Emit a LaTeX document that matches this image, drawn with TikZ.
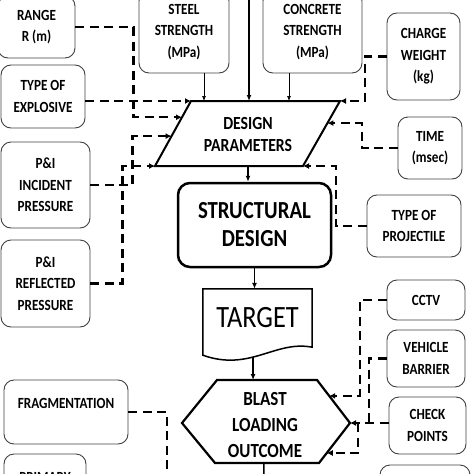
\documentclass[tikz,border=0pt]{standalone}
\usepackage{fontspec}
\setmainfont{Carlito}[FakeStretch=0.85]
\usetikzlibrary{arrows.meta,calc}

\begin{document}
\begin{tikzpicture}[x=1pt,y=-1pt,
  box/.style={draw=black!75,line width=0.9pt,rounded corners=10pt,align=center,
    inner sep=0pt,font=\bfseries\fontsize{15.5}{21.5}\selectfont},
  link/.style={line width=2.1pt,dash pattern=on 9pt off 5.5pt,-{Latex[length=6pt,width=6pt]}},
  flow/.style={line width=1.6pt,-{Latex[length=6pt,width=5pt]}},
  feed/.style={line width=0.7pt,-{Latex[length=5pt,width=4pt]}}]
\useasboundingbox (0,0) rectangle (474,474);
\clip (0,0) rectangle (474,474);
% inputs, left
\node[box,minimum width=77pt,minimum height=62pt] (range) at (36.5,27) {RANGE\\R (m)};
\node[box,minimum width=84pt,minimum height=63pt] (explosive) at (43,96.5) {TYPE OF\\EXPLOSIVE};
\node[box,minimum width=89pt,minimum height=86pt] (incident) at (45.5,185) {P\&I\\INCIDENT\\PRESSURE};
\node[box,minimum width=89pt,minimum height=87pt] (reflected) at (45.5,283.5) {P\&I\\REFLECTED\\PRESSURE};
\node[box,minimum width=124pt,minimum height=64pt] (fragmentation) at (66,412) {FRAGMENTATION\\[-4pt]\mbox{}};
\node[box,minimum width=82pt,minimum height=64pt] (primary) at (45,486) {PRIMARY\\[-4pt]\mbox{}};
% inputs, top
\node[box,minimum width=90pt,minimum height=82pt] (steel) at (184,32) {STEEL\\STRENGTH\\(MPa)};
\node[box,minimum width=99pt,minimum height=82pt] (concrete) at (312.5,32) {CONCRETE\\STRENGTH\\(MPa)};
% inputs, right
\node[box,minimum width=73pt,minimum height=87pt] (charge) at (423.5,56.5) {CHARGE\\WEIGHT\\(kg)};
\node[box,minimum width=64pt,minimum height=62pt] (time) at (430,148) {TIME\\(msec)};
\node[box,minimum width=94pt,minimum height=62pt] (projectile) at (414,226) {TYPE OF\\PROJECTILE};
\node[box,minimum width=78pt,minimum height=40pt] (cctv) at (426,300) {CCTV};
\node[box,minimum width=78pt,minimum height=57pt] (vehicle) at (426,358.5) {VEHICLE\\BARRIER};
\node[box,minimum width=77pt,minimum height=57pt] (check) at (427.5,425.5) {CHECK\\POINTS};
\node[box,minimum width=90pt,minimum height=70pt] (more) at (425,500) {};
% design parameters
\coordinate (par nw) at (191,101);
\coordinate (par ne) at (340,101);
\coordinate (par se) at (303,166);
\coordinate (par sw) at (155,166);
\draw[line width=2pt] (par nw) -- (par ne) -- (par se) -- (par sw) -- cycle;
\node[align=center,font=\bfseries\fontsize{18.5}{22}\selectfont] (params) at (248,134) {DESIGN\\PARAMETERS};
\coordinate (par l1) at ($(par nw)!0.25!(par sw)$);
\coordinate (par l2) at ($(par nw)!0.54!(par sw)$);
\coordinate (par r1) at ($(par ne)!0.34!(par se)$);
% structural design
\node[draw,line width=2.5pt,rounded corners=12pt,minimum width=153pt,minimum height=84pt,align=center,
  font=\bfseries\fontsize{24.5}{28}\selectfont] (design) at (254.5,225) {STRUCTURAL\\DESIGN};
% target
\node[minimum width=109pt,minimum height=58pt,font=\fontsize{31}{32}\selectfont] (target) at (257.5,318) {TARGET};
\draw[line width=1.5pt] (target.south east) -- (target.north east) -- (target.north west)
  -- ([yshift=-8pt]target.south west) .. controls (250,372) and (275,340) .. (target.south east)
  coordinate[pos=0.42] (target out) -- cycle;
% blast loading outcome
\coordinate (hex w) at (182,423);
\coordinate (hex nw) at (217,380);
\coordinate (hex ne) at (317,380);
\coordinate (hex e) at (350,423);
\coordinate (hex se) at (319,463);
\coordinate (hex sw) at (215,463);
\draw[line width=2.2pt] (hex w) -- (hex nw) -- (hex ne) -- (hex e) -- (hex se) -- (hex sw) -- cycle;
\node[align=center,font=\bfseries\fontsize{20}{26}\selectfont] (outcome) at (265,425) {BLAST\\LOADING\\OUTCOME};
\coordinate (hex r1) at ($(hex ne)!0.37!(hex e)$);
\coordinate (hex r2) at ($(hex e)!0.75!(hex se)$);
\coordinate (hex s) at ($(hex sw)!0.47!(hex se)$);
\coordinate (top in) at (249,-10);
\coordinate (out end) at (264,490);
\coordinate (frag end) at (167,495);
% main flow
\draw[flow] (top in) -- (top in |- par nw);
\draw[feed] ([xshift=20pt]steel.south) -- ([xshift=20pt]steel.south |- par nw);
\draw[feed] ([xshift=-23.5pt]concrete.south) -- ([xshift=-23.5pt]concrete.south |- par nw);
\draw[flow] (params |- par sw) -- (params |- design.north);
\draw[flow] (design.south) -- (design.south |- target.north);
\draw[flow] (target out) -- (target out |- hex nw);
\draw[line width=1.6pt] (hex s) -- (out end);
% dashed links
\draw[link] (range.east) -- ++(58,0) |- (par l1);
\draw[link] (explosive.east |- par nw) -- (par nw);
\draw[link] (incident.east) -- ++(42,0) |- (par l2);
\draw[link] (reflected.east) -- ++(32,0) |- (par sw);
\draw[link] (charge.west) -- ++(-22,0) |- (par ne);
\draw[link] (time.west) -- ++(-36,0) |- (par r1);
\draw[link] (projectile.west) -- ++(-31,0) |- (par se);
\draw[link] (cctv.west) -- ++(-27,0) |- (hex r1);
\draw[link,-] (vehicle.west) -- ++(-18,0) |- ([xshift=19pt]hex e);
\draw[link] (check.west |- hex e) -- (hex e);
\draw[link] ([xshift=8pt]hex e) |- (hex r2);
\draw[link] (fragmentation.east) -| (frag end);
\end{tikzpicture}
\end{document}
